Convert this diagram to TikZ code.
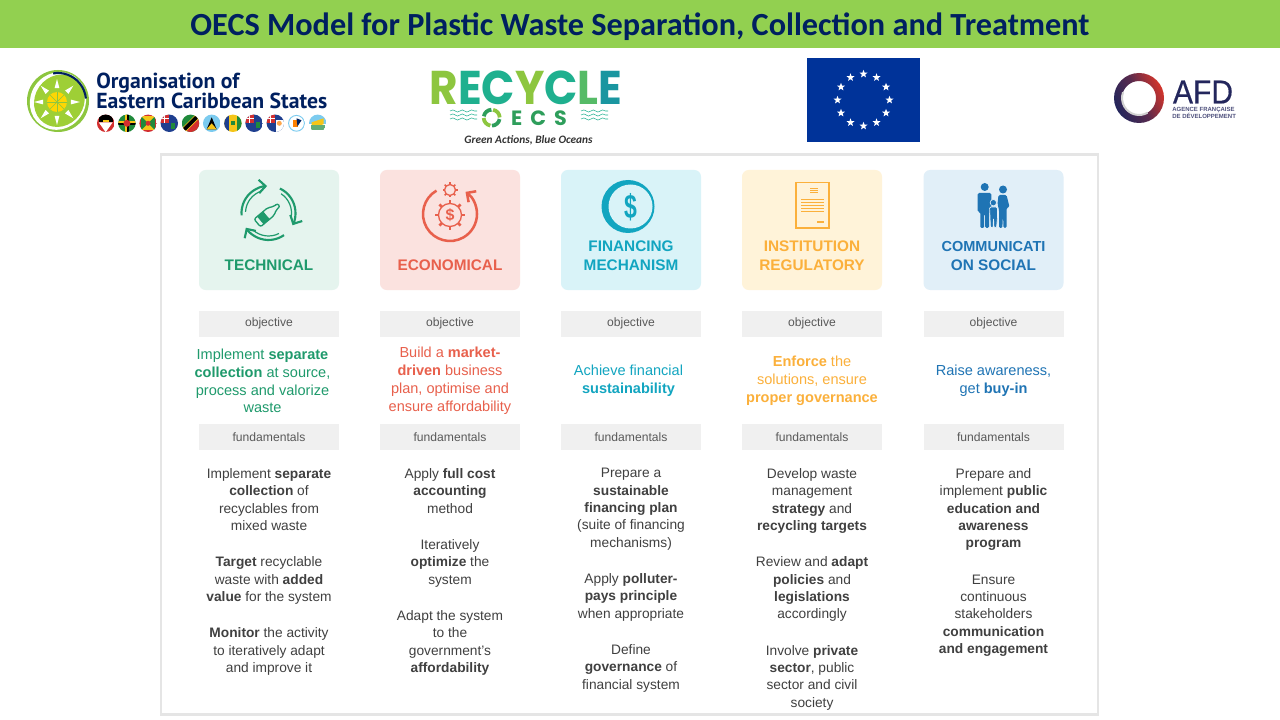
\documentclass[tikz,border=0pt]{standalone}
\usepackage{fontspec}
\setmainfont{Liberation Sans}
\newfontfamily\titlefont{Carlito}
\newfontfamily\logofont{PT Sans}
\newfontfamily\recyclefont{Poppins}
\newfontfamily\afdfont[FakeBold=0.4]{Liberation Sans}
\usetikzlibrary{shapes, arrows.meta, positioning, calc, decorations.pathmorphing}
\definecolor{titlegreen}{HTML}{92D050}
\definecolor{titlenavy}{HTML}{002060}
\definecolor{techcol}{HTML}{1F9A6C}
\definecolor{techbg}{HTML}{E5F4EE}
\definecolor{econcol}{HTML}{E8604C}
\definecolor{econbg}{HTML}{FBE2DF}
\definecolor{fincol}{HTML}{12A5C0}
\definecolor{finbg}{HTML}{D9F3F8}
\definecolor{instcol}{HTML}{FBB03B}
\definecolor{instbg}{HTML}{FFF3D9}
\definecolor{commcol}{HTML}{1F74B4}
\definecolor{commbg}{HTML}{E1EFF8}
\definecolor{bodygrey}{HTML}{404040}
\definecolor{oecsgreen}{HTML}{8DC63F}
\definecolor{oecsteal}{HTML}{1FB08F}
\definecolor{oecsdark}{HTML}{2E9E5B}
\definecolor{eublue}{HTML}{003399}
\definecolor{afdnavy}{HTML}{23265C}
\definecolor{afdred}{HTML}{D5352B}
\definecolor{flagblue}{HTML}{1F3F8F}
\definecolor{flagred}{HTML}{D32F2F}
\definecolor{flaggreen}{HTML}{1F8A3B}
\definecolor{flagyellow}{HTML}{F5C518}
\definecolor{flagsky}{HTML}{7CCBEF}
\newcommand{\flagdisc}[2]{\begin{scope}[shift={(#1,123.3)}]\clip (0,0) circle (8.7);#2\end{scope}}
\newcommand{\flagunion}{\fill[flagred] (-9,-9) rectangle (0,0);\draw[white, line width=0.5pt] (-9,-5) -- (0,-5) (-5,-9) -- (-5,0);}
\tikzset{
  cardbox/.style={draw=none, rounded corners=5pt, minimum width=105pt, minimum height=90pt, inner sep=0pt},
  cardlabel/.style={font=\bfseries\fontsize{11.5}{14.2}\selectfont, align=center, inner sep=0pt},
  tagbar/.style={fill=black!6, text=black!65, minimum width=105pt, minimum height=19.5pt, inner sep=0pt, font=\fontsize{9.1}{11}\selectfont},
  goaltext/.style={font=\fontsize{10.9}{13.4}\selectfont, align=center, inner sep=0pt},
  basetext/.style={font=\fontsize{10.3}{13.05}\selectfont, align=center, inner sep=0pt, anchor=north, text=bodygrey},
  icontext/.style={font=\bfseries\fontsize{#1}{#1}\selectfont, inner sep=0pt}
}
\begin{document}
\begin{tikzpicture}[x=0.75pt, y=-0.75pt]
\useasboundingbox (0,0) rectangle (1280,720);
\fill[white] (0,0) rectangle (1280,720);
\node[fill=titlegreen, minimum width=960pt, minimum height=36pt, inner sep=0pt] (titlebar) at (640,24) {};
\node[text=titlenavy, font=\titlefont\bfseries\fontsize{24.2}{28}\selectfont, inner sep=0pt] (titletext) at (640,26.5) {OECS Model for Plastic Waste Separation, Collection and Treatment};

% OECS logo
\fill[oecsgreen] (58,101) circle (31);
\fill[white, rotate around={-35:(58,101)}] (58,101) ellipse (27.5 and 29.5);
\fill[oecsgreen!85!yellow, rotate around={-35:(58,101)}] (59,100) ellipse (24.5 and 27);
\draw[titlenavy, line width=1.6pt] (58,101) ++(-100:28) arc (-100:-5:28);
\foreach \a in {0,45,...,315} \fill[white] ($(57,102)+(\a-10:14)$) -- ($(57,102)+(\a+10:14)$) -- ($(57,102)+(\a:23)$) -- cycle;
\fill[yellow!75!orange] (57,102) circle (10);
\foreach \a in {0,45,...,135} \draw[oecsgreen, line width=0.4pt] (57,102) ++(\a:10) -- ++(\a:-20);
\node[text=titlenavy, font=\logofont\bfseries\fontsize{16.3}{15.4}\selectfont, align=left, anchor=west, inner sep=0pt] (oecsname) at (96,91) {Organisation of\\Eastern Caribbean States};
\flagdisc{105.7}{\fill[flagred] (-9,-9) rectangle (9,9);\fill[black] (-7,-9) rectangle (7,-1);\fill[white] (-7,-1) -- (7,-1) -- (0,9) -- cycle;\fill[flagyellow] (-3,-1) rectangle (3,-3);}
\flagdisc{126.9}{\fill[flaggreen] (-9,-9) rectangle (9,9);\fill[flagyellow] (-9,-2) rectangle (9,0);\fill[black] (-9,0) rectangle (9,2);\fill[flagyellow] (-2,-9) rectangle (0,9);\fill[black] (0,-9) rectangle (2,9);\fill[flagred] (0,0) circle (3.5);}
\flagdisc{148.1}{\fill[flagred] (-9,-9) rectangle (9,9);\fill[flagyellow] (-7,-7) rectangle (7,7);\fill[flaggreen] (-7,-7) -- (0,0) -- (-7,7) -- cycle;\fill[flaggreen] (7,-7) -- (0,0) -- (7,7) -- cycle;\fill[flagred] (0,0) circle (2.5);}
\flagdisc{169.3}{\fill[flagblue] (-9,-9) rectangle (9,9);\flagunion\fill[flaggreen] (2,0) rectangle (6,6);}
\flagdisc{190.5}{\fill[flaggreen] (-9,-9) rectangle (9,9);\fill[flagred] (-9,9) -- (9,-9) -- (9,9) -- cycle;\draw[flagyellow, line width=4pt] (-9,9) -- (9,-9);\draw[black, line width=2.8pt] (-9,9) -- (9,-9);}
\flagdisc{211.7}{\fill[flagsky] (-9,-9) rectangle (9,9);\fill[black] (-5,6) -- (0,-6) -- (5,6) -- cycle;\fill[flagyellow] (-5,6) -- (0,0) -- (5,6) -- cycle;}
\flagdisc{232.9}{\fill[flagyellow] (-9,-9) rectangle (9,9);\fill[flagblue] (-9,-9) rectangle (-4,9);\fill[flaggreen] (4,-9) rectangle (9,9);\fill[flaggreen] (-2,-2) rectangle (2,2);}
\flagdisc{254.1}{\fill[flagblue] (-9,-9) rectangle (9,9);\flagunion\fill[flaggreen] (2,-1) rectangle (6,5);}
\flagdisc{275.3}{\fill[flagblue] (-9,-9) rectangle (9,9);\flagunion\fill[white] (1,-3) rectangle (9,9);\fill[orange!70] (4,0) circle (2.5);}
\flagdisc{296.5}{\fill[white] (-9,-9) rectangle (9,9);\fill[orange] (-4,-3) rectangle (1,4);\fill[titlenavy] (0,-5) -- (5,-3) -- (1,3) -- cycle;\draw[flagsky, line width=0.7pt] (0,0) circle (7.9);}
\flagdisc{317.7}{\fill[white] (-9,-9) rectangle (9,9);\fill[flagsky] (-9,-9) rectangle (9,1);\fill[flagyellow] (-6,-1) -- (6,-5) -- (6,1) -- (-6,4) -- cycle;\fill[flaggreen!70] (-7,2) rectangle (7,7);}

% recycle logo
\node[font=\recyclefont\bfseries\fontsize{35.5}{36}\selectfont, inner sep=0pt] (recycleword) at (526,88) {\scalebox{.925}[1]{\textcolor{oecsgreen}{R}\textcolor{oecsteal}{E}\textcolor{oecsteal}{C}\textcolor{oecsgreen}{Y}\textcolor{oecsteal}{C}\textcolor{oecsgreen!50!oecsteal}{L}\textcolor{oecsteal!85!blue}{E}}};
\node[text=oecsdark, font=\recyclefont\fontsize{15.5}{15.5}\selectfont, inner sep=0pt] (oecsword) at (539,118) {\textbf{E}\hspace{6pt}\textbf{C}\hspace{6pt}\textbf{S}};
\foreach \a/\c in {-80/oecsgreen, 10/oecsdark, 100/oecsgreen, 190/oecsdark}
  \draw[\c, line width=2.8pt] (491.7,117.7) ++(\a:8) arc (\a:\a+78:8);
\foreach \y in {111,115,119}{
  \draw[oecsteal, thin, decorate, decoration={snake, amplitude=0.8pt, segment length=7pt}] (450,\y) -- (477,\y);
  \draw[oecsteal, thin, decorate, decoration={snake, amplitude=0.8pt, segment length=7pt}] (581,\y) -- (608,\y);
}
\node[text=black!80, font=\titlefont\bfseries\itshape\fontsize{8.5}{9}\selectfont, inner sep=0pt] (greenline) at (528.5,140) {Green Actions, Blue Oceans};

% EU flag
\node[fill=eublue, minimum width=84.75pt, minimum height=63pt, inner sep=0pt] (euflag) at (863.5,100) {};
\foreach \a in {0,30,...,330}
  \node[star, star points=5, star point ratio=2.4, fill=white, inner sep=0pt, minimum size=6.3pt] (eustar\a) at ($(euflag.center)+(\a:26)$) {};

% AFD logo
\shade[even odd rule, left color=afdnavy, right color=afdred, middle color=afdnavy!70!afdred, shading angle=115] (1139,98) circle (25) (1139,98) circle (17);
\draw[black!18, line width=1.5pt] (1139,98) ++(60:17) arc (60:200:17);
\node[text=afdnavy, font=\afdfont\fontsize{25}{25}\selectfont, inner sep=0pt] (afdword) at (1203,92) {\scalebox{.9}[1]{AFD}};
\node[text=afdnavy!80, font=\bfseries\fontsize{4.5}{5}\selectfont, align=left, anchor=west, inner sep=0pt] (afdname) at (1172,113) {AGENCE FRANÇAISE\\DE DÉVELOPPEMENT};

% frame
\node[draw=black!10, line width=1.6pt, minimum width=703pt, minimum height=420pt, inner sep=0pt] (frame) at (629.5,434.5) {};

% cards
\node[cardbox, fill=techbg] (techcard) at (269,230) {};
\node[cardbox, fill=econbg] (econcard) at (450,230) {};
\node[cardbox, fill=finbg] (fincard) at (631,230) {};
\node[cardbox, fill=instbg] (instcard) at (812,230) {};
\node[cardbox, fill=commbg] (commcard) at (993.5,230) {};
\node[cardlabel, text=techcol] (techlabel) at (269,265.5) {TECHNICAL};
\node[cardlabel, text=econcol] (econlabel) at (450,265.5) {ECONOMICAL};
\node[cardlabel, text=fincol] (finlabel) at (631,256) {FINANCING\\MECHANISM};
\node[cardlabel, text=instcol] (instlabel) at (812,256) {INSTITUTION\\REGULATORY};
\node[cardlabel, text=commcol] (commlabel) at (993.5,256) {\fontsize{10.9}{14.2}\selectfont COMMUNICATI\\\fontsize{11.5}{14.2}\selectfont ON SOCIAL};

% tag bars
\foreach \n/\x in {tech/269, econ/450, fin/631, inst/812, comm/993.5}{
  \node[tagbar] (\n obj) at (\x,323.5) {objective};
  \node[tagbar] (\n fun) at (\x,437) {fundamentals};
}

% technical icon
\foreach \s in {-185,-65,55}{
  \draw[techcol, line width=1.6pt, -{Straight Barb[length=5pt, width=10pt]}] (268.5,213) ++(\s:27) arc (\s:\s+92:27);
  \draw[techcol, line width=0.9pt] (268.5,213) ++(\s+8:23) arc (\s+8:\s+78:23);
}
\begin{scope}[rotate around={40:(268,214)}]
  \draw[techcol, line width=1pt, rounded corners=1.5pt] (254,209) -- (272,209) -- (277,212) -- (282,212) -- (282,216) -- (277,216) -- (272,219) -- (254,219) -- cycle;
  \fill[techcol] (258,209) rectangle (266,219);
\end{scope}

% economical icon
\draw[econcol, line width=1.9pt, -{Straight Barb[length=5pt, width=10pt]}] (450,214) ++(-120:27) arc (-120:-415:27);
\draw[econcol, line width=1pt] (450,190) circle (5.5);
\foreach \a in {0,45,...,315} \draw[econcol, line width=1.2pt] (450,190) ++(\a:5.5) -- ++(\a:2);
\draw[econcol, line width=1pt] (450,215) circle (11.5);
\foreach \a in {0,45,...,315} \draw[econcol, line width=2pt] (450,215) ++(\a:11.5) -- ++(\a:3.5);
\node[icontext=12, text=econcol] (econdollar) at (450,215) {\$};

% financing icon
\fill[fincol] (628,206.5) circle (26.5);
\fill[finbg] (630.5,206.5) circle (22);
\node[icontext=23, text=fincol] (findollar) at (630.5,207) {\scalebox{.75}[1.1]{\$}};

% institution icon
\draw[instcol, line width=1.1pt] (796,182.5) rectangle (829,228);
\foreach \y in {188,190,192} \draw[instcol, line width=0.6pt] (810,\y) -- (818,\y);
\foreach \y in {199,202,205,208,211} \draw[instcol, line width=0.6pt] (801,\y) -- (824,\y);
\draw[instcol, line width=0.8pt] (817,222) -- (824,222);

% communication icon
\fill[commcol] (984.7,187) circle (4);
\fill[commcol, rounded corners=1pt] (977.7,193) -- (991.3,193) -- (991.3,212) -- (989,212) -- (989,228) -- (985.2,228) -- (985.2,214) -- (984.2,214) -- (984.2,228) -- (980.3,228) -- (980.3,212) -- (977.7,212) -- cycle;
\fill[commcol] (1003,189.5) circle (4);
\fill[commcol, rounded corners=1pt] (998.5,195) -- (1006.5,195) -- (1009.5,207) -- (1006.5,208) -- (1006.5,228) -- (1003.5,228) -- (1003,214) -- (1002.3,228) -- (999,228) -- (999,210) -- (997.5,204) -- cycle;
\draw[commbg, fill=commcol, line width=0.5pt] (993.3,202.7) circle (3.2);
\draw[commbg, fill=commcol, line width=0.5pt, rounded corners=1pt] (989.5,207) -- (997.5,207) -- (997.5,217) -- (996.5,228) -- (994,228) -- (993.5,218) -- (993,228) -- (990.5,228) -- (990,217) -- cycle;

% objectives
\node[goaltext, text=techcol] (techgoal) at (262.5,381) {Implement \textbf{separate}\\\textbf{collection} at source,\\process and valorize\\waste};
\node[goaltext, text=econcol] (econgoal) at (450,381) {Build a \textbf{market-}\\\textbf{driven} business\\plan, optimise and\\ensure affordability};
\node[goaltext, text=fincol] (fingoal) at (628.5,381) {Achieve financial\\\textbf{sustainability}};
\node[goaltext, text=instcol] (instgoal) at (812,381) {\textbf{Enforce} the\\solutions, ensure\\\textbf{proper governance}};
\node[goaltext, text=commcol] (commgoal) at (993.5,381) {Raise awareness,\\get \textbf{buy-in}};

% fundamentals
\node[basetext] (techbase) at (269,468) {Implement \textbf{separate}\\\textbf{collection} of\\recyclables from\\mixed waste\\[14.1pt]\textbf{Target} recyclable\\waste with \textbf{added}\\\textbf{value} for the system\\[14.1pt]\textbf{Monitor} the activity\\to iteratively adapt\\and improve it};
\node[basetext] (econbase) at (450,468) {Apply \textbf{full cost}\\\textbf{accounting}\\method\\[14.1pt]Iteratively\\\textbf{optimize} the\\system\\[14.1pt]Adapt the system\\to the\\government’s\\\textbf{affordability}};
\node[basetext] (finbase) at (631,468) {Prepare a\\\textbf{sustainable}\\\textbf{financing plan}\\(suite of financing\\mechanisms)\\[14.1pt]Apply \textbf{polluter-}\\\textbf{pays principle}\\when appropriate\\[14.1pt]Define\\\textbf{governance} of\\financial system};
\node[basetext] (instbase) at (812,468) {Develop waste\\management\\\textbf{strategy} and\\\textbf{recycling targets}\\[14.1pt]Review and \textbf{adapt}\\\textbf{policies} and\\\textbf{legislations}\\accordingly\\[14.1pt]Involve \textbf{private}\\\textbf{sector}, public\\sector and civil\\society};
\node[basetext] (commbase) at (993.5,468) {Prepare and\\implement \textbf{public}\\\textbf{education and}\\\textbf{awareness}\\\textbf{program}\\[14.1pt]Ensure\\continuous\\stakeholders\\\textbf{communication}\\\textbf{and engagement}};
\end{tikzpicture}
\end{document}
